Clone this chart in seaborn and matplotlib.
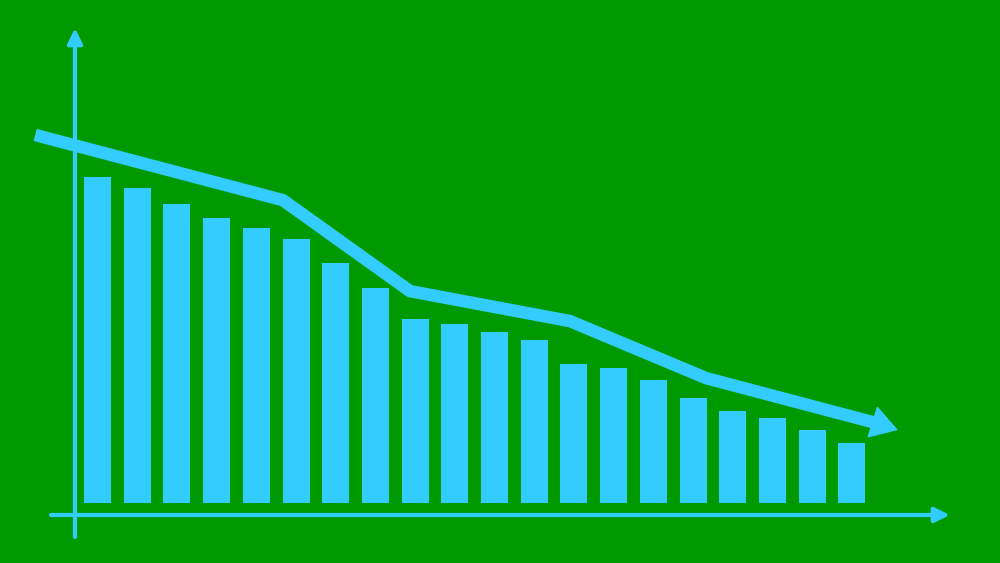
import matplotlib
matplotlib.use("Agg")
import matplotlib.pyplot as plt
import seaborn as sns
import pandas as pd
import numpy as np

# ---- data ----
periods = list(range(1, 21))
values = [100, 96.6, 91.7, 87.4, 84.4, 81.0, 73.6, 66.0, 56.4, 54.9,
          52.5, 50.0, 42.6, 41.4, 37.7, 32.2, 28.2, 26.1, 22.4, 18.4]
trend_x = [-1.57, 4.67, 7.87, 11.90, 15.33, 19.53]
trend_y = [112.9, 92.9, 65.0, 55.8, 38.3, 24.8]
trend_tip = (20.16, 22.4)

# ---- style ----
GREEN = "#009A00"
BLUE = "#33CCFF"

sns.set_theme(style="white")
fig = plt.figure(figsize=(10, 5.63), dpi=100)
fig.patch.set_facecolor(GREEN)
ax = fig.add_axes([0, 0, 1, 1])
ax.set_facecolor(GREEN)

df = pd.DataFrame({"period": [str(p) for p in periods], "value": values})
sns.barplot(data=df, x="period", y="value", color=BLUE, width=0.68,
            saturation=1, ax=ax, edgecolor="none")

tdf = pd.DataFrame({"x": trend_x, "y": trend_y})
sns.lineplot(data=tdf, x="x", y="y", color=BLUE, linewidth=9, ax=ax,
             sort=False)
for l in ax.lines:
    l.set_solid_capstyle("butt")
    l.set_solid_joinstyle("round")

# arrow head of trend line
ax.annotate("", xy=trend_tip, xytext=(trend_x[-1], trend_y[-1]),
            arrowprops=dict(arrowstyle="-|>,head_length=0.9,head_width=0.55",
                            mutation_scale=20, color=BLUE, lw=1,
                            shrinkA=0, shrinkB=0))

# axis arrows
ax.annotate("", xy=(-0.567, 145.7), xytext=(-0.567, -10.4),
            arrowprops=dict(arrowstyle="-|>,head_length=0.45,head_width=0.22",
                            mutation_scale=20, color=BLUE, lw=3,
                            shrinkA=0, shrinkB=0))
ax.annotate("", xy=(21.47, -3.68), xytext=(-1.17, -3.68),
            arrowprops=dict(arrowstyle="-|>,head_length=0.45,head_width=0.22",
                            mutation_scale=20, color=BLUE, lw=3,
                            shrinkA=0, shrinkB=0))

ax.set_xlim(-2.456, 22.73)
ax.set_ylim(-18.4, 154.3)
ax.set_xlabel("")
ax.set_ylabel("")
ax.set_xticks([])
ax.set_yticks([])
for s in ax.spines.values():
    s.set_visible(False)

fig.savefig("out.png", dpi=100, facecolor=GREEN)
